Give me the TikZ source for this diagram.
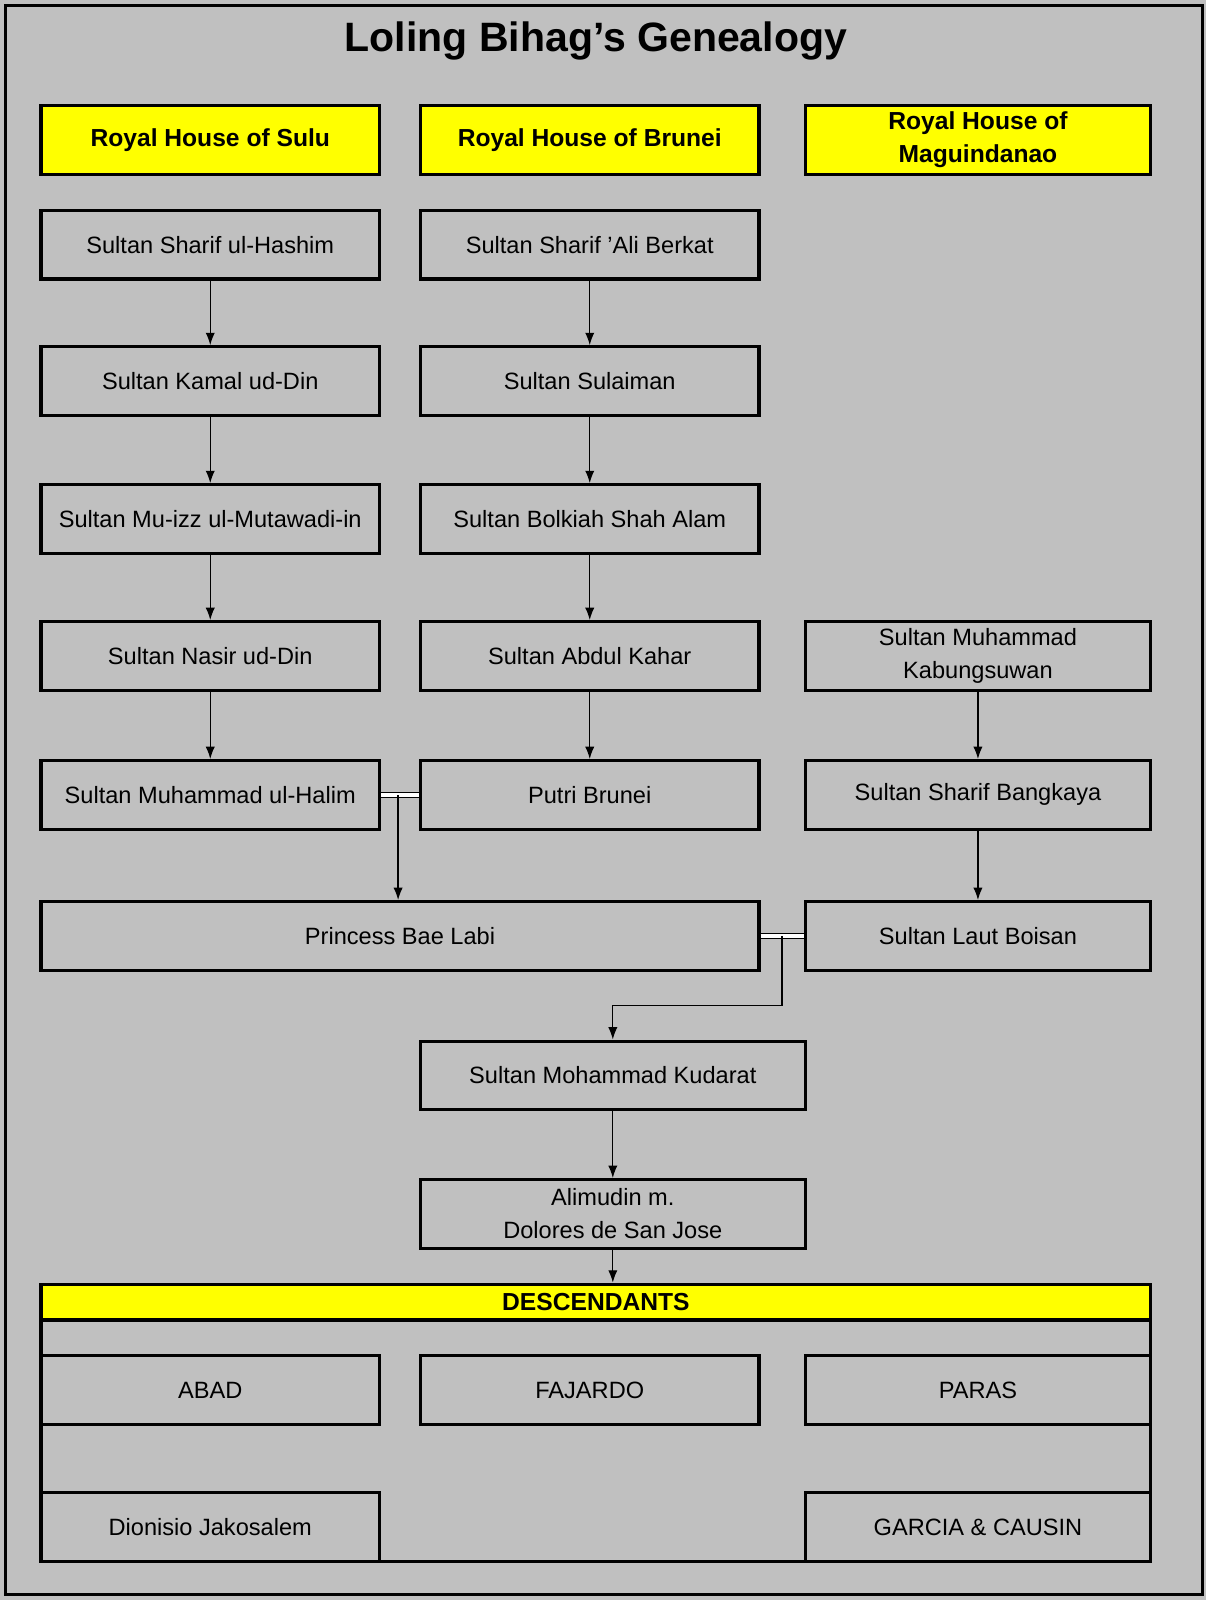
\documentclass[tikz,border=0pt]{standalone}
\usepackage{fontspec}
\setmainfont{Liberation Sans}
\usetikzlibrary{arrows.meta, calc}
\definecolor{bggray}{HTML}{C0C0C0}
\definecolor{hdryellow}{HTML}{FFFF00}
\newcommand{\apos}{\char"27\relax}
\tikzset{
  box/.style={draw, line width=1.5pt, rectangle, align=center, inner sep=0pt,
    minimum width=165pt, minimum height=33.5pt, font=\fontsize{11.5}{16}\selectfont},
  house/.style={box, fill=hdryellow, font=\fontsize{12}{16}\selectfont\bfseries},
  wide/.style={minimum width=168.5pt},
  child/.style={-{Latex[length=6pt,width=4.5pt]}, semithick},
  wed/.style={double, double distance=1.6pt, semithick}
}
\begin{document}
\begin{tikzpicture}[x=0.5pt, y=-0.5pt]
  \useasboundingbox (0,0) rectangle (1176,1560);
  \fill[bggray] (0,0) rectangle (1176,1560);
  \draw[line width=1.5pt] (5,5) rectangle (1172,1555);
  \node[font=\fontsize{20}{24}\selectfont\bfseries] (title) at (581,40) {Loling Bihag\apos s Genealogy};

  % houses
  \node[house] (sulu) at (205,136.5) {Royal House of Sulu};
  \node[house] (brunei) at (575,136.5) {Royal House of Brunei};
  \node[house, wide] (magu) at (953.5,136.5) {Royal House of\\Maguindanao};

  % Sulu line
  \node[box] (hashim) at (205,238.5) {Sultan Sharif ul-Hashim};
  \node[box] (kamal) at (205,371.5) {Sultan Kamal ud-Din};
  \node[box] (muizz) at (205,506) {Sultan Mu-izz ul-Mutawadi-in};
  \node[box] (nasir) at (205,639.5) {Sultan Nasir ud-Din};
  \node[box] (halim) at (205,775) {Sultan Muhammad ul-Halim};

  % Brunei line
  \node[box] (berkat) at (575,238.5) {Sultan Sharif \apos Ali Berkat};
  \node[box] (sulaiman) at (575,371.5) {Sultan Sulaiman};
  \node[box] (bolkiah) at (575,506) {Sultan Bolkiah Shah Alam};
  \node[box] (kahar) at (575,639.5) {Sultan Abdul Kahar};
  \node[box] (putri) at (575,775) {Putri Brunei};

  % Maguindanao line
  \node[box, wide] (kabung) at (953.5,639.5) {Sultan Muhammad\\Kabungsuwan};
  \node[box, wide] (bangkaya) at (953.5,775) {Sultan Sharif Bangkaya};
  \node[box, wide] (boisan) at (953.5,912.5) {Sultan Laut Boisan};

  \node[box, minimum width=350pt] (baelabi) at (390,912.5) {Princess Bae Labi};
  \node[box, minimum width=187.5pt] (kudarat) at (597.5,1048.5) {Sultan Mohammad Kudarat};
  \node[box, minimum width=187.5pt] (alimudin) at (597.5,1183.5) {Alimudin m.\\Dolores de San Jose};

  % descendants
  \draw[line width=1.5pt] (40,1252) rectangle (1122,1522);
  \node[house, minimum width=541pt, minimum height=17.5pt] (desc) at (581,1269.5) {DESCENDANTS};
  \node[box] (abad) at (205,1355.5) {ABAD};
  \node[box] (fajardo) at (575,1355.5) {FAJARDO};
  \node[box, wide] (paras) at (953.5,1355.5) {PARAS};
  \node[box] (dionisio) at (205,1489) {Dionisio Jakosalem};
  \node[box, wide] (garcia) at (953.5,1489) {GARCIA \& CAUSIN};

  % descent
  \foreach \a/\b in {hashim/kamal, kamal/muizz, muizz/nasir, nasir/halim,
                     berkat/sulaiman, sulaiman/bolkiah, bolkiah/kahar, kahar/putri,
                     kabung/bangkaya, bangkaya/boisan, kudarat/alimudin}
    \draw[child] (\a) -- (\b);
  \draw[child] (alimudin) -- (alimudin |- desc.north);

  % marriages
  \draw[wed] (halim.east) -- (putri.west);
  \coordinate (wed1) at ($(halim.east)!0.45!(putri.west)$);
  \draw[child] (wed1) -- (wed1 |- baelabi.north);
  \draw[wed] (baelabi.east) -- (boisan.west);
  \coordinate (wed2) at ($(baelabi.east)!0.5!(boisan.west)$);
  \coordinate (turn) at (0,980);
  \draw[child] (wed2) -- (wed2 |- turn) -- (kudarat.north |- turn) -- (kudarat.north);
\end{tikzpicture}
\end{document}
